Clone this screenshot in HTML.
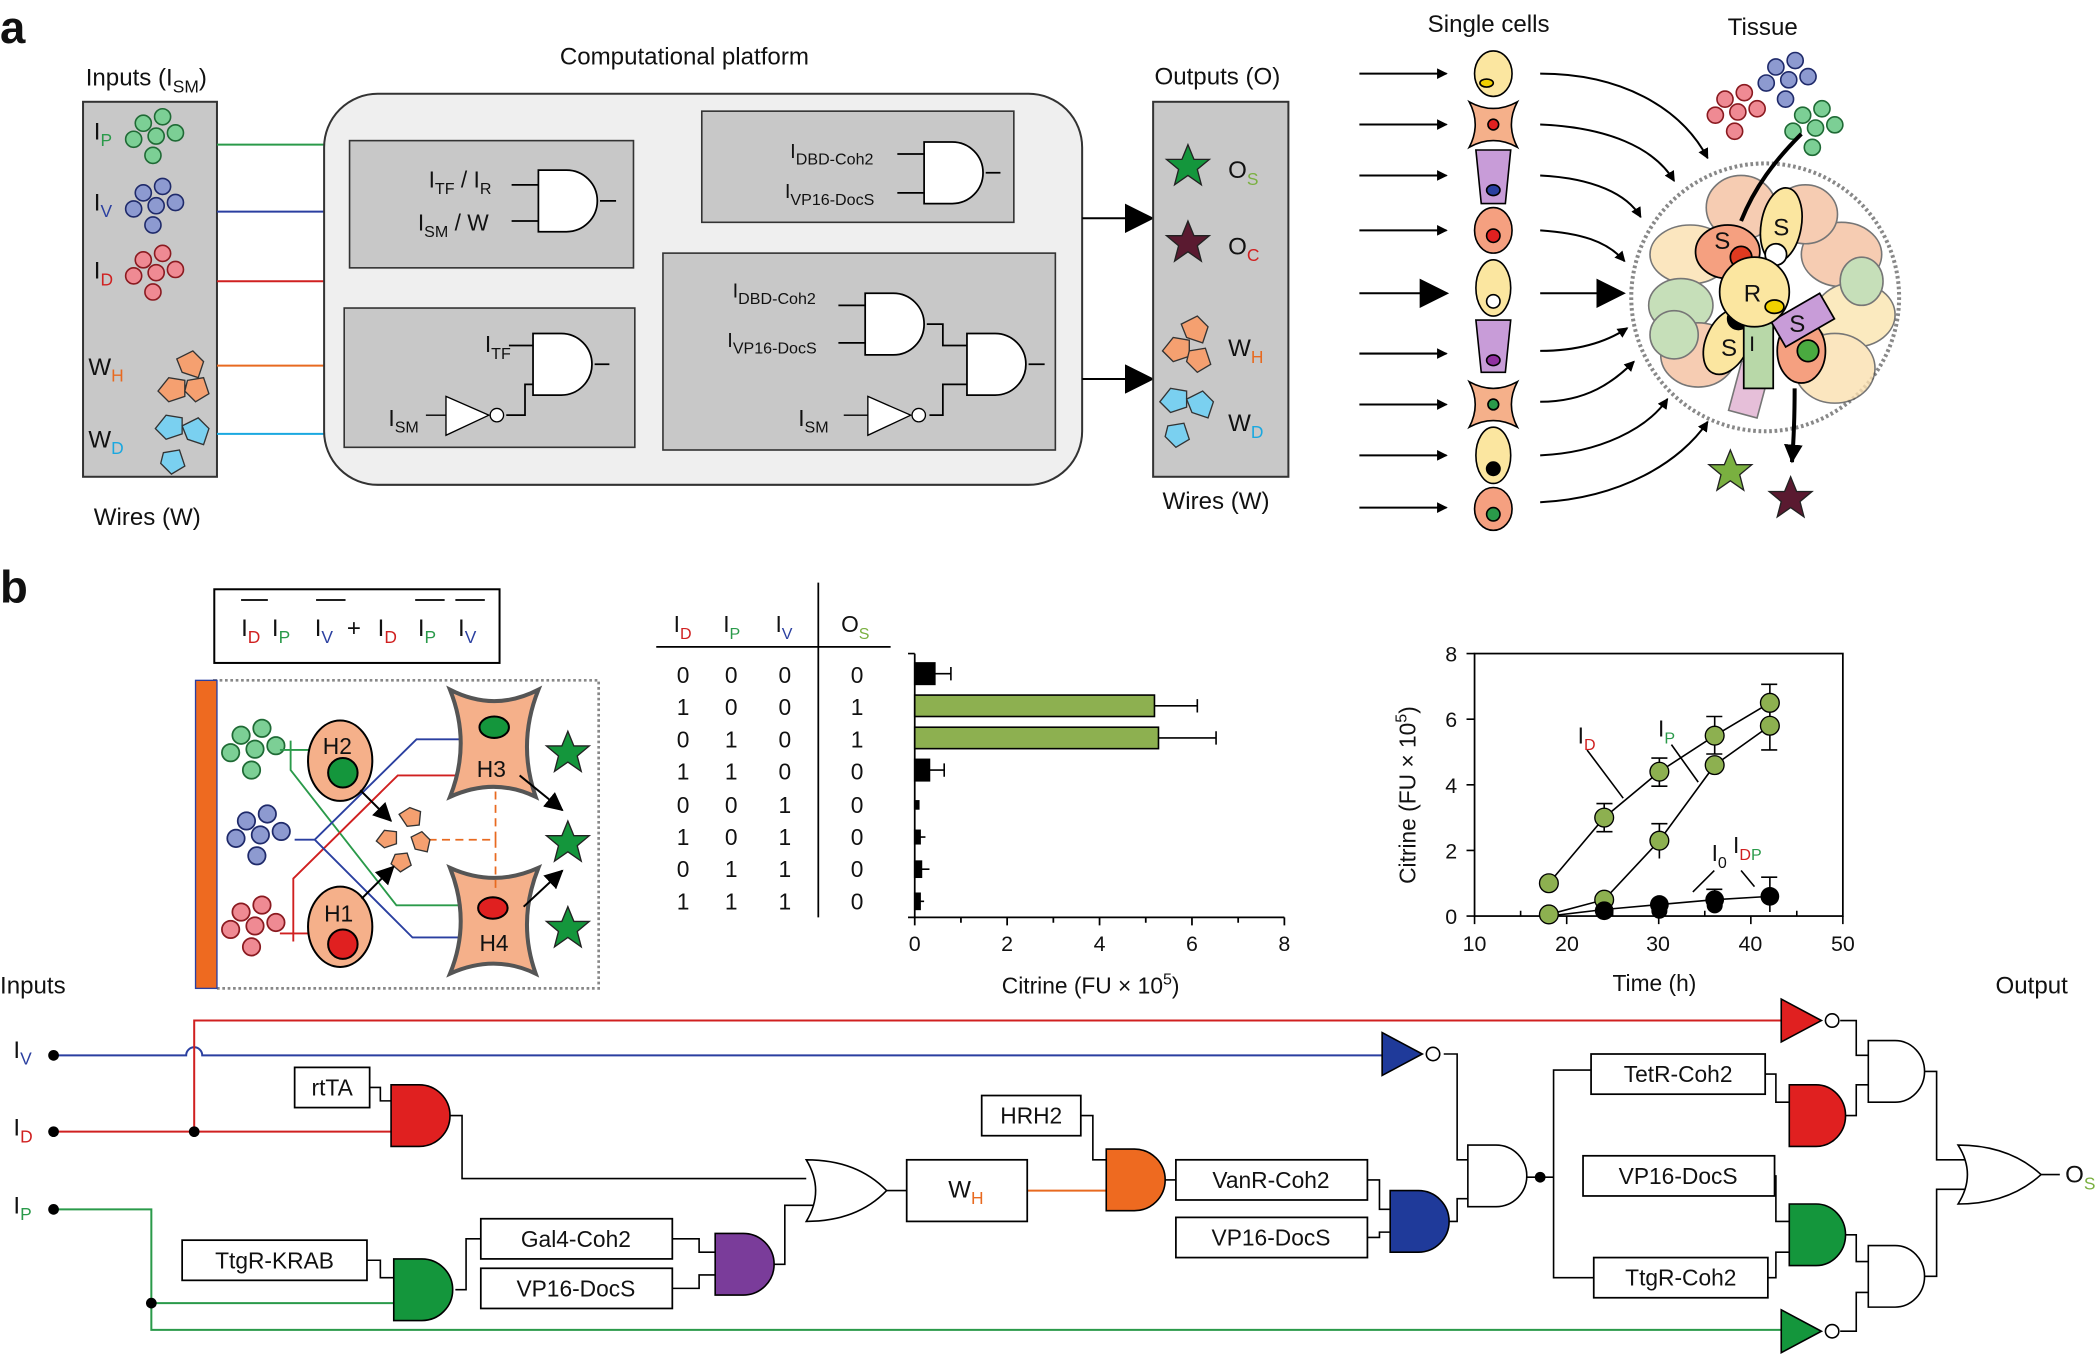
<!DOCTYPE html>
<html><head><meta charset="utf-8"><style>
html,body{margin:0;padding:0;background:#fff}
svg{display:block}
text{font-family:"Liberation Sans",Arial,sans-serif;fill:#111}
</style></head><body>
<svg width="2100" height="1354" viewBox="0 0 1568 1011" preserveAspectRatio="none" xmlns="http://www.w3.org/2000/svg">
<defs>
<marker id="ar" markerWidth="8" markerHeight="8" refX="7" refY="4" orient="auto" markerUnits="userSpaceOnUse"><path d="M0,0 L8,4 L0,8z" fill="#000"/></marker>
<marker id="arb" markerWidth="22" markerHeight="22" refX="20" refY="11" orient="auto" markerUnits="userSpaceOnUse"><path d="M0,0 L22,11 L0,22z" fill="#000"/></marker>
<marker id="arm" markerWidth="14" markerHeight="14" refX="13" refY="7" orient="auto" markerUnits="userSpaceOnUse"><path d="M0,0 L14,7 L0,14z" fill="#000"/></marker>
<g id="dg"><circle cx="0" cy="0" r="5"/><circle cx="12" cy="-4" r="5"/><circle cx="-6" cy="10" r="5"/><circle cx="8" cy="8" r="5"/><circle cx="20" cy="6" r="5"/><circle cx="6" cy="20" r="5"/></g>
<g id="gate" stroke="#000" stroke-width="1.3"><path d="M0,0 H21 A23,23 0 0 1 21,46 H0 Z"/></g>
<path id="star" d="M0,-16 L4.5,-5 L16,-5 L7,2.5 L10,14 L0,7 L-10,14 L-7,2.5 L-16,-5 L-4.5,-5Z"/>
</defs>

<!-- ===== Panel a ===== -->
<text x="0" y="32" font-size="34" font-weight="bold">a</text>
<text x="64" y="64" font-size="18">Inputs (I<tspan font-size="13" dy="5">SM</tspan><tspan dy="-5">)</tspan></text>
<rect x="62" y="76" width="100" height="280" fill="#c8c8c8" stroke="#333" stroke-width="1.5"/>
<text x="70" y="104" font-size="18">I<tspan font-size="13" dy="5" fill="#2a9a4a">P</tspan></text>
<text x="70" y="157" font-size="18">I<tspan font-size="13" dy="5" fill="#2a3fa0">V</tspan></text>
<text x="70" y="208" font-size="18">I<tspan font-size="13" dy="5" fill="#d02020">D</tspan></text>
<text x="66" y="280" font-size="18">W<tspan font-size="13" dy="5" fill="#e86a20">H</tspan></text>
<text x="66" y="334" font-size="18">W<tspan font-size="13" dy="5" fill="#1aa8e0">D</tspan></text>
<use href="#dg" transform="translate(107,92) scale(1.2)" fill="#7ccf95" stroke="#1f6a35"/>
<use href="#dg" transform="translate(107,144) scale(1.2)" fill="#8d9ad0" stroke="#1f2a6a"/>
<use href="#dg" transform="translate(107,194) scale(1.2)" fill="#ef8a93" stroke="#8a1a20"/>
<g fill="#f5a070" stroke="#333"><path d="M118,292 l8,-10 l12,2 l0,12 l-12,4z"/><path d="M132,268 l12,-6 l8,8 l-4,12 l-12,-4z"/><path d="M140,284 l12,-2 l4,12 l-10,6 l-8,-8z"/></g>
<g fill="#7ad0f0" stroke="#333"><path d="M116,320 l8,-10 l12,2 l0,12 l-12,4z"/><path d="M136,318 l12,-6 l8,8 l-4,12 l-12,-4z"/><path d="M122,338 l12,-2 l4,12 l-10,6 l-8,-8z"/></g>
<text x="70" y="392" font-size="18">Wires (W)</text>
<line x1="162" y1="108" x2="242" y2="108" stroke="#2a9a4a" stroke-width="1.5"/>
<line x1="162" y1="158" x2="242" y2="158" stroke="#2a3fa0" stroke-width="1.5"/>
<line x1="162" y1="210" x2="242" y2="210" stroke="#d02020" stroke-width="1.5"/>
<line x1="162" y1="273" x2="242" y2="273" stroke="#e86a20" stroke-width="1.5"/>
<line x1="162" y1="324" x2="242" y2="324" stroke="#1aa8e0" stroke-width="1.5"/>
<text x="418" y="48" font-size="18">Computational platform</text>
<rect x="242" y="70" width="566" height="292" rx="40" fill="#efefef" stroke="#333" stroke-width="1.5"/>
<g fill="#c8c8c8" stroke="#333" stroke-width="1.2">
<rect x="261" y="105" width="212" height="95"/><rect x="257" y="230" width="217" height="104"/>
<rect x="524" y="83" width="233" height="83"/><rect x="495" y="189" width="293" height="147"/></g>
<g fill="#fff"><use href="#gate" x="402" y="127"/></g>
<path d="M382,138H402M382,165H402M448,150H460" stroke="#000" stroke-width="1.3"/>
<text x="320" y="140" font-size="17">I<tspan font-size="12" dy="5">TF</tspan><tspan dy="-5"> / I</tspan><tspan font-size="12" dy="5">R</tspan></text>
<text x="312" y="172" font-size="17">I<tspan font-size="12" dy="5">SM</tspan><tspan dy="-5"> / W</tspan></text>
<use href="#gate" x="690" y="106" fill="#fff"/>
<path d="M670,115H690M670,144H690M736,129H747" stroke="#000" stroke-width="1.3"/>
<text x="590" y="118" font-size="15">I<tspan font-size="12" dy="5">DBD-Coh2</tspan></text>
<text x="586" y="148" font-size="15">I<tspan font-size="12" dy="5">VP16-DocS</tspan></text>
<use href="#gate" x="398" y="249" fill="#fff"/>
<path d="M380,258H398M444,272H455M398,287H392V310H378" stroke="#000" stroke-width="1.3" fill="none"/>
<path d="M333,296L365,310L333,325Z" fill="#fff" stroke="#000"/><circle cx="371" cy="310" r="5" fill="#fff" stroke="#000"/>
<line x1="318" y1="310" x2="333" y2="310" stroke="#000"/>
<text x="362" y="263" font-size="17">I<tspan font-size="12" dy="5">TF</tspan></text>
<text x="290" y="318" font-size="17">I<tspan font-size="12" dy="5">SM</tspan></text>
<use href="#gate" x="646" y="219" fill="#fff"/><use href="#gate" x="722" y="249" fill="#fff"/>
<path d="M626,228H646M626,256H646M692,242H704V258H722M768,272H780M722,287H704V310H694" stroke="#000" stroke-width="1.3" fill="none"/>
<path d="M648,296L680,310L648,325Z" fill="#fff" stroke="#000"/><circle cx="686" cy="310" r="5" fill="#fff" stroke="#000"/>
<line x1="630" y1="310" x2="648" y2="310" stroke="#000"/>
<text x="547" y="222" font-size="15">I<tspan font-size="12" dy="5">DBD-Coh2</tspan></text>
<text x="543" y="259" font-size="15">I<tspan font-size="12" dy="5">VP16-DocS</tspan></text>
<text x="596" y="318" font-size="17">I<tspan font-size="12" dy="5">SM</tspan></text>
<line x1="808" y1="163" x2="860" y2="163" stroke="#000" stroke-width="1.5" marker-end="url(#arb)"/>
<line x1="808" y1="283" x2="860" y2="283" stroke="#000" stroke-width="1.5" marker-end="url(#arb)"/>
<text x="862" y="63" font-size="18">Outputs (O)</text>
<rect x="861" y="76" width="101" height="280" fill="#c8c8c8" stroke="#333" stroke-width="1.5"/>
<use href="#star" x="887" y="124" fill="#14963c" stroke="#222"/>
<use href="#star" x="887" y="181" fill="#5a1a30" stroke="#222"/>
<text x="917" y="133" font-size="18">O<tspan font-size="13" dy="5" fill="#7ab040">S</tspan></text>
<text x="917" y="190" font-size="18">O<tspan font-size="13" dy="5" fill="#d02020">C</tspan></text>
<text x="917" y="266" font-size="18">W<tspan font-size="13" dy="5" fill="#e86a20">H</tspan></text>
<text x="917" y="322" font-size="18">W<tspan font-size="13" dy="5" fill="#1aa8e0">D</tspan></text>
<g fill="#f5a070" stroke="#333"><path d="M868,262 l8,-10 l12,2 l0,12 l-12,4z"/><path d="M882,242 l12,-6 l8,8 l-4,12 l-12,-4z"/><path d="M888,262 l12,-2 l4,12 l-10,6 l-8,-8z"/></g>
<g fill="#7ad0f0" stroke="#333"><path d="M866,300 l8,-10 l12,2 l0,12 l-12,4z"/><path d="M886,298 l12,-6 l8,8 l-4,12 l-12,-4z"/><path d="M872,318 l12,-2 l4,12 l-10,6 l-8,-8z"/></g>
<text x="868" y="380" font-size="18">Wires (W)</text>
<text x="1066" y="24" font-size="18">Single cells</text>
<text x="1290" y="26" font-size="18">Tissue</text>
<g stroke="#000" stroke-width="1.5" fill="none">
<line x1="1015" y1="55" x2="1080" y2="55" marker-end="url(#ar)"/>
<line x1="1015" y1="93" x2="1080" y2="93" marker-end="url(#ar)"/>
<line x1="1015" y1="131" x2="1080" y2="131" marker-end="url(#ar)"/>
<line x1="1015" y1="172" x2="1080" y2="172" marker-end="url(#ar)"/>
<line x1="1015" y1="219" x2="1080" y2="219" marker-end="url(#arb)"/>
<line x1="1015" y1="264" x2="1080" y2="264" marker-end="url(#ar)"/>
<line x1="1015" y1="302" x2="1080" y2="302" marker-end="url(#ar)"/>
<line x1="1015" y1="340" x2="1080" y2="340" marker-end="url(#ar)"/>
<line x1="1015" y1="379" x2="1080" y2="379" marker-end="url(#ar)"/>
<line x1="1150" y1="219" x2="1212" y2="219" marker-end="url(#arb)"/>
<path d="M1150,55 C1210,55 1255,80 1275,118" marker-end="url(#ar)"/>
<path d="M1150,93 C1200,95 1235,110 1250,135" marker-end="url(#ar)"/>
<path d="M1150,131 C1190,133 1215,145 1225,162" marker-end="url(#ar)"/>
<path d="M1150,172 C1180,174 1200,180 1213,195" marker-end="url(#ar)"/>
<path d="M1150,262 C1180,262 1200,255 1215,245" marker-end="url(#ar)"/>
<path d="M1150,300 C1185,300 1205,285 1220,270" marker-end="url(#ar)"/>
<path d="M1150,340 C1195,338 1230,320 1245,298" marker-end="url(#ar)"/>
<path d="M1150,375 C1210,372 1255,345 1275,315" marker-end="url(#ar)"/>
</g>
<g stroke="#000" stroke-width="1.2">
<ellipse cx="1115" cy="55" rx="14" ry="17" fill="#fbe6a0"/><ellipse cx="1110" cy="62" rx="5" ry="3" fill="#f0d000"/>
<path d="M1097,76 Q1115,86 1133,76 Q1124,93 1133,110 Q1115,100 1097,110 Q1106,93 1097,76Z" fill="#f5b08a"/><circle cx="1115" cy="93" r="4" fill="#e02020"/>
<path d="M1102,112 H1128 L1124,152 H1106Z" fill="#c89cd8"/><ellipse cx="1115" cy="142" rx="5" ry="4" fill="#2a3fa0"/>
<ellipse cx="1115" cy="172" rx="14" ry="17" fill="#f5a080"/><circle cx="1115" cy="176" r="5" fill="#e02020"/>
<ellipse cx="1115" cy="215" rx="13" ry="21" fill="#fbe6a0"/><circle cx="1115" cy="225" r="5" fill="#fff"/>
<path d="M1102,239 H1128 L1124,278 H1106Z" fill="#c89cd8"/><ellipse cx="1115" cy="269" rx="5" ry="4" fill="#9030a0"/>
<path d="M1097,285 Q1115,295 1133,285 Q1124,302 1133,319 Q1115,309 1097,319 Q1106,302 1097,285Z" fill="#f5b08a"/><circle cx="1115" cy="302" r="4" fill="#2a9a4a"/>
<ellipse cx="1115" cy="340" rx="13" ry="21" fill="#fbe6a0"/><circle cx="1115" cy="350" r="5" fill="#000"/>
<ellipse cx="1115" cy="380" rx="14" ry="16" fill="#f5a080"/><circle cx="1115" cy="384" r="5" fill="#2a9a4a"/>
</g>
<circle cx="1318" cy="222" r="100" fill="none" stroke="#888" stroke-width="3" stroke-dasharray="2,2"/>
<use href="#dg" transform="translate(1288,74) scale(1.2)" fill="#ef8a93" stroke="#8a1a20"/>
<use href="#dg" transform="translate(1326,50) scale(1.2)" fill="#8d9ad0" stroke="#1f2a6a"/>
<use href="#dg" transform="translate(1346,86) scale(1.2)" fill="#7ccf95" stroke="#1f6a35"/>
<g stroke="#555" stroke-width="1.2" opacity="0.8">
<ellipse cx="1262" cy="190" rx="30" ry="22" fill="#fbe0b0"/><ellipse cx="1375" cy="190" rx="30" ry="24" fill="#f5c0a0"/>
<ellipse cx="1255" cy="228" rx="24" ry="20" fill="#b8d8a8"/><ellipse cx="1385" cy="235" rx="30" ry="24" fill="#fbe6b0"/>
<ellipse cx="1268" cy="265" rx="28" ry="24" fill="#f5c0a0"/><ellipse cx="1370" cy="275" rx="30" ry="26" fill="#fbe0b0"/>
<ellipse cx="1300" cy="155" rx="26" ry="24" fill="#f5c0a0"/><ellipse cx="1348" cy="160" rx="24" ry="22" fill="#f5c0a0"/>
<ellipse cx="1250" cy="250" rx="18" ry="18" fill="#b8d8a8"/><ellipse cx="1390" cy="210" rx="16" ry="18" fill="#b8d8a8"/>
<rect x="1296" y="272" width="22" height="38" fill="#e0b0d0" transform="rotate(15 1307 288)"/>
</g>
<g stroke="#000" stroke-width="1.3">
<ellipse cx="1290" cy="188" rx="24" ry="20" fill="#f5a080"/><circle cx="1300" cy="192" r="8" fill="#e03a20"/>
<ellipse cx="1330" cy="168" rx="15" ry="28" fill="#fbe6a0" transform="rotate(10 1330 168)"/><circle cx="1326" cy="190" r="8" fill="#fff"/>
<ellipse cx="1290" cy="255" rx="16" ry="26" fill="#fbe6a0" transform="rotate(25 1290 255)"/><circle cx="1298" cy="238" r="8" fill="#000"/>
<rect x="1302" y="240" width="22" height="50" fill="#b8d8a8"/>
<ellipse cx="1345" cy="262" rx="18" ry="24" fill="#f5a080"/><circle cx="1350" cy="262" r="8" fill="#4aaa40"/>
<rect x="1335" y="218" width="22" height="42" fill="#c89cd8" transform="rotate(60 1346 239)"/>
<circle cx="1310" cy="218" r="26" fill="#fbe6a0"/><ellipse cx="1325" cy="229" rx="7" ry="5" fill="#f0d000"/>
</g>
<text x="1302" y="225" font-size="18">R</text><text x="1324" y="176" font-size="18">S</text><text x="1280" y="186" font-size="18">S</text>
<text x="1285" y="266" font-size="18">S</text><text x="1336" y="248" font-size="18">S</text><text x="1306" y="262" font-size="16">I</text>
<path d="M1345,100 C1325,120 1310,140 1300,165" stroke="#000" stroke-width="3" fill="none"/>
<path d="M1340,290 Q1340,320 1338,345" stroke="#000" stroke-width="3" fill="none" marker-end="url(#arm)"/>
<use href="#star" x="1292" y="352" fill="#7ab040" stroke="#222"/>
<use href="#star" x="1337" y="372" fill="#5a1a30" stroke="#222"/>

<!-- ===== Panel b ===== -->
<text x="0" y="450" font-size="34" font-weight="bold">b</text>
<rect x="160" y="440" width="213" height="55" fill="#fff" stroke="#000" stroke-width="1.5"/>
<g stroke="#000" stroke-width="1.3"><line x1="180" y1="448" x2="200" y2="448"/><line x1="236" y1="448" x2="258" y2="448"/><line x1="310" y1="448" x2="332" y2="448"/><line x1="340" y1="448" x2="362" y2="448"/></g>
<g font-size="18">
<text x="180" y="475">I<tspan font-size="13" dy="5" fill="#d02020">D</tspan></text>
<text x="203" y="475">I<tspan font-size="13" dy="5" fill="#2a9a4a">P</tspan></text>
<text x="235" y="475">I<tspan font-size="13" dy="5" fill="#2a3fa0">V</tspan></text>
<text x="259" y="475">+</text>
<text x="282" y="475">I<tspan font-size="13" dy="5" fill="#d02020">D</tspan></text>
<text x="312" y="475">I<tspan font-size="13" dy="5" fill="#2a9a4a">P</tspan></text>
<text x="342" y="475">I<tspan font-size="13" dy="5" fill="#2a3fa0">V</tspan></text>
</g>
<rect x="160" y="508" width="287" height="230" fill="none" stroke="#888" stroke-width="2" stroke-dasharray="2,2"/>
<rect x="146" y="508" width="16" height="230" fill="#ee6a20" stroke="#2a3fa0"/>
<use href="#dg" transform="translate(180,549) scale(1.3)" fill="#7ccf95" stroke="#1f6a35"/>
<use href="#dg" transform="translate(184,613) scale(1.3)" fill="#8d9ad0" stroke="#1f2a6a"/>
<use href="#dg" transform="translate(180,681) scale(1.3)" fill="#ef8a93" stroke="#8a1a20"/>
<g fill="none" stroke-width="1.4">
<path d="M209,560 H234 M217,553 V575 L296,676 H346" stroke="#2a9a4a"/>
<path d="M209,697 H234 M219,703 V656 L297,579 H346" stroke="#d02020"/>
<path d="M220,627 H235 L311,552 H346 M235,627 L308,700 H346" stroke="#2a3fa0"/>
</g>
<g stroke="#000" stroke-width="1.5">
<ellipse cx="254" cy="568" rx="24" ry="30" fill="#f5b08a"/><circle cx="256" cy="577" r="11" fill="#14963c"/>
<ellipse cx="254" cy="692" rx="24" ry="30" fill="#f5b08a"/><circle cx="256" cy="705" r="11" fill="#e02020"/>
</g>
<text x="241" y="563" font-size="17">H2</text><text x="242" y="688" font-size="17">H1</text>
<g stroke="#555" stroke-width="3" fill="#f5b08a">
<path d="M336,515 Q369,532 402,515 Q386,555 400,595 Q369,580 336,595 Q352,555 336,515Z"/>
<path d="M336,648 Q369,663 402,648 Q386,688 400,727 Q369,712 336,727 Q352,688 336,648Z"/>
</g>
<ellipse cx="369" cy="543" rx="11" ry="8" fill="#14963c" stroke="#000" stroke-width="1.5"/>
<ellipse cx="368" cy="678" rx="11" ry="8" fill="#e02020" stroke="#000" stroke-width="1.5"/>
<text x="356" y="580" font-size="17">H3</text><text x="358" y="710" font-size="17">H4</text>
<path d="M320,627 H370 V588 M370,627 V664" stroke="#e86a20" stroke-dasharray="6,4" stroke-width="1.3" fill="none"/>
<g fill="#f5a070" stroke="#333"><path d="M298,608 l8,-5 l8,3 l-1,10 l-9,1z"/><path d="M281,628 l6,-8 l9,1 l0,9 l-9,3z"/><path d="M307,625 l8,-4 l6,6 l-2,9 l-9,-2z"/><path d="M295,638 l9,-1 l3,9 l-8,5 l-7,-6z"/></g>
<g stroke="#000" stroke-width="1.5">
<line x1="269" y1="590" x2="292" y2="613" marker-end="url(#arm)"/>
<line x1="270" y1="671" x2="294" y2="647" marker-end="url(#arm)"/>
<line x1="388" y1="579" x2="420" y2="605" marker-end="url(#arm)"/>
<line x1="391" y1="677" x2="420" y2="650" marker-end="url(#arm)"/>
</g>
<use href="#star" x="424" y="562" fill="#14963c" stroke="#222"/>
<use href="#star" x="424" y="629" fill="#14963c" stroke="#222"/>
<use href="#star" x="424" y="693" fill="#14963c" stroke="#222"/>
<line x1="611" y1="435" x2="611" y2="685" stroke="#000" stroke-width="1.3"/>
<line x1="490" y1="483" x2="665" y2="483" stroke="#000" stroke-width="1.3"/>
<g font-size="17">
<text x="503" y="472">I<tspan font-size="12" dy="5" fill="#d02020">D</tspan></text>
<text x="540" y="472">I<tspan font-size="12" dy="5" fill="#2a9a4a">P</tspan></text>
<text x="579" y="472">I<tspan font-size="12" dy="5" fill="#2a3fa0">V</tspan></text>
<text x="628" y="472">O<tspan font-size="12" dy="5" fill="#7ab040">S</tspan></text>
</g>
<g font-size="17" text-anchor="middle">
<text x="510" y="510">0</text><text x="546" y="510">0</text><text x="586" y="510">0</text><text x="640" y="510">0</text>
<text x="510" y="534">1</text><text x="546" y="534">0</text><text x="586" y="534">0</text><text x="640" y="534">1</text>
<text x="510" y="558">0</text><text x="546" y="558">1</text><text x="586" y="558">0</text><text x="640" y="558">1</text>
<text x="510" y="582">1</text><text x="546" y="582">1</text><text x="586" y="582">0</text><text x="640" y="582">0</text>
<text x="510" y="607">0</text><text x="546" y="607">0</text><text x="586" y="607">1</text><text x="640" y="607">0</text>
<text x="510" y="631">1</text><text x="546" y="631">0</text><text x="586" y="631">1</text><text x="640" y="631">0</text>
<text x="510" y="655">0</text><text x="546" y="655">1</text><text x="586" y="655">1</text><text x="640" y="655">0</text>
<text x="510" y="679">1</text><text x="546" y="679">1</text><text x="586" y="679">1</text><text x="640" y="679">0</text>
</g>
<g stroke="#000" stroke-width="1.3" fill="none">
<path d="M683,488 V685 H959"/>
<path d="M683,685v6M717.5,685v4M752,685v6M786.5,685v4M821,685v6M855.5,685v4M890,685v6M924.5,685v4M959,685v6"/>
<path d="M683,488h-5M683,685h-5"/>
</g>
<g font-size="16" text-anchor="middle"><text x="683" y="710">0</text><text x="752" y="710">2</text><text x="821" y="710">4</text><text x="890" y="710">6</text><text x="959" y="710">8</text></g>
<text x="748" y="742" font-size="17">Citrine (FU × 10<tspan font-size="12" dy="-7">5</tspan><tspan dy="7">)</tspan></text>
<g stroke="#000" stroke-width="1.2">
<rect x="683" y="495" width="15" height="16" fill="#000"/><path d="M698,503H710M710,498v10"/>
<rect x="683" y="519" width="179" height="16" fill="#8db050"/><path d="M862,527H894M894,522v10"/>
<rect x="683" y="543" width="182" height="16" fill="#8db050"/><path d="M865,551H908M908,546v10"/>
<rect x="683" y="567" width="11" height="16" fill="#000"/><path d="M694,575H705M705,570v10"/>
<rect x="683" y="598" width="3" height="6" fill="#000"/>
<rect x="683" y="620" width="4" height="10" fill="#000"/><path d="M687,625H691"/>
<rect x="683" y="643" width="5" height="12" fill="#000"/><path d="M688,649H694"/>
<rect x="683" y="667" width="4" height="12" fill="#000"/><path d="M687,673H690"/>
</g>
<rect x="1101" y="488" width="275" height="196" fill="none" stroke="#000" stroke-width="1.3"/>
<g stroke="#000" stroke-width="1.2"><path d="M1101,684v6M1135.4,684v-4M1169.8,684v6M1204.1,684v-4M1238.5,684v6M1272.9,684v-4M1307.3,684v6M1341.6,684v-4M1376,684v6"/>
<path d="M1101,684h-6M1101,635h-6M1101,586h-6M1101,537h-6M1101,488h-6"/></g>
<g font-size="16" text-anchor="middle"><text x="1101" y="710">10</text><text x="1170" y="710">20</text><text x="1238" y="710">30</text><text x="1307" y="710">40</text><text x="1376" y="710">50</text></g>
<g font-size="16" text-anchor="end"><text x="1088" y="690">0</text><text x="1088" y="641">2</text><text x="1088" y="592">4</text><text x="1088" y="543">6</text><text x="1088" y="494">8</text></g>
<text x="1204" y="740" font-size="17">Time (h)</text>
<text transform="translate(1057,660) rotate(-90)" font-size="17">Citrine (FU × 10<tspan font-size="12" dy="-7">5</tspan><tspan dy="7">)</tspan></text>
<g stroke="#000" stroke-width="1.2" fill="none">
<polyline points="1156.5,659.5 1197.8,610.5 1239,576.2 1280.3,549.3 1321.5,524.8"/>
<polyline points="1156.5,682.8 1197.8,671.8 1239,627.7 1280.3,571.3 1321.5,541.9"/>
<polyline points="1156.5,684 1197.8,679.1 1239,675.4 1280.3,671.8 1321.5,669.3"/>
<path d="M1197.8,600v21M1239,566v21M1280.3,535v28M1321.5,511v28M1321.5,524v36M1239,615v26M1321.5,655v26M1280.3,664v14"/>
<path d="M1192,600h12M1192,621h12M1233,566h12M1233,587h12M1274,535h12M1274,563h12M1315,511h12M1315,560h12M1233,615h12M1315,655h12M1274,664h12"/>
<path d="M1185,560 L1212,596 M1248,556 L1268,584 M1280,650 L1264,666 M1300,650 L1310,662"/>
</g>
<g stroke="#000" fill="#8db050">
<circle cx="1156.5" cy="659.5" r="7"/><circle cx="1197.8" cy="610.5" r="7"/><circle cx="1239" cy="576.2" r="7"/><circle cx="1280.3" cy="549.3" r="7"/><circle cx="1321.5" cy="524.8" r="7"/>
<circle cx="1156.5" cy="682.8" r="7"/><circle cx="1197.8" cy="671.8" r="7"/><circle cx="1239" cy="627.7" r="7"/><circle cx="1280.3" cy="571.3" r="7"/><circle cx="1321.5" cy="541.9" r="7"/>
</g>
<g fill="#000"><circle cx="1197.8" cy="680" r="7"/><circle cx="1239" cy="675.4" r="7"/><circle cx="1280.3" cy="671.8" r="7"/><circle cx="1321.5" cy="669.3" r="7"/><circle cx="1239" cy="680" r="6"/><circle cx="1280.3" cy="676" r="6"/></g>
<text x="1178" y="555" font-size="17">I<tspan font-size="12" dy="5" fill="#d02020">D</tspan></text>
<text x="1238" y="550" font-size="17">I<tspan font-size="12" dy="5" fill="#2a9a4a">P</tspan></text>
<text x="1278" y="643" font-size="17">I<tspan font-size="12" dy="5">0</tspan></text>
<text x="1294" y="637" font-size="17">I<tspan font-size="12" dy="5" fill="#d02020">D</tspan><tspan font-size="12" fill="#2a9a4a">P</tspan></text>

<!-- ===== Circuit ===== -->
<text x="0" y="742" font-size="18">Inputs</text>
<text x="1490" y="742" font-size="18">Output</text>
<text x="10" y="790" font-size="18">I<tspan font-size="13" dy="5" fill="#2a3fa0">V</tspan></text>
<text x="10" y="848" font-size="18">I<tspan font-size="13" dy="5" fill="#d02020">D</tspan></text>
<text x="10" y="906" font-size="18">I<tspan font-size="13" dy="5" fill="#2a9a4a">P</tspan></text>
<g fill="none" stroke-width="1.5">
<path d="M40,788 H139 A6,6 0 0 1 151,788 H1032" stroke="#2a3fa0"/>
<path d="M40,845 H292 M145,845 V762 H1330" stroke="#d02020"/>
<path d="M40,903 H113 V993 H1330 M113,973 H294" stroke="#2a9a4a"/>
<path d="M767,889 H826" stroke="#e86a20"/>
</g>
<g fill="#000"><circle cx="40" cy="788" r="4"/><circle cx="40" cy="845" r="4"/><circle cx="40" cy="903" r="4"/><circle cx="145" cy="845" r="4"/><circle cx="113" cy="973" r="4"/><circle cx="1150" cy="879" r="4"/></g>
<g stroke="#000" stroke-width="1.2" fill="none">
<path d="M276,812 H284 V822 H292"/>
<path d="M336,833 H345 V880 H602"/>
<path d="M274,941 H284 V954 H294"/>
<path d="M340,963 H348 V925 H359"/>
<path d="M502,925 H522 V935 H534 M502,962 H522 V952 H534"/>
<path d="M578,944 H586 V900 H610"/>
<path d="M660,889 H677"/>
<path d="M807,833 H816 V866 H826"/>
<path d="M870,881 H878"/>
<path d="M1021,881 H1030 V903 H1038 M1021,924 H1030 V920 H1038"/>
<path d="M1080,912 H1088 V895 H1096"/>
<path d="M1078,787 H1088 V866 H1096"/>
<path d="M1140,879 H1160 V799 H1188 M1160,879 V954 H1190"/>
<path d="M1318,802 H1326 V823 H1336"/>
<path d="M1325,878 H1326 V912 H1336"/>
<path d="M1320,954 H1326 V935 H1336"/>
<path d="M1378,833 H1386 V810 H1395"/>
<path d="M1374,762 H1386 V788 H1395"/>
<path d="M1378,922 H1386 V942 H1395"/>
<path d="M1374,994 H1386 V965 H1395"/>
<path d="M1437,800 H1446 V866 H1468 M1437,953 H1446 V888 H1468"/>
<path d="M1524,877 H1538"/>
</g>
<g stroke="#000" stroke-width="1.2">
<path d="M292,810 H313 A23,23 0 0 1 313,856 H292Z" fill="#e02020"/>
<path d="M294,940 H315 A23,23 0 0 1 315,986 H294Z" fill="#14963c"/>
<path d="M534,921 H555 A23,23 0 0 1 555,967 H534Z" fill="#7a3c9a"/>
<path d="M826,858 H847 A23,23 0 0 1 847,904 H826Z" fill="#ee6a20"/>
<path d="M1038,889 H1059 A23,23 0 0 1 1059,935 H1038Z" fill="#1f3a9a"/>
<path d="M1096,855 H1117 A23,23 0 0 1 1117,901 H1096Z" fill="#fff"/>
<path d="M1336,810 H1356 A22,23 0 0 1 1356,856 H1336Z" fill="#e02020"/>
<path d="M1336,899 H1356 A22,23 0 0 1 1356,945 H1336Z" fill="#14963c"/>
<path d="M1395,777 H1415 A22,23 0 0 1 1415,823 H1395Z" fill="#fff"/>
<path d="M1395,930 H1415 A22,23 0 0 1 1415,976 H1395Z" fill="#fff"/>
<path d="M602,866 Q640,866 662,889 Q640,912 602,912 Q616,889 602,866Z" fill="#fff"/>
<path d="M1462,855 Q1500,855 1524,877 Q1500,899 1462,899 Q1476,877 1462,855Z" fill="#fff"/>
<path d="M1330,746 L1360,762 L1330,778Z" fill="#e02020"/><circle cx="1368" cy="762" r="5" fill="#fff"/>
<path d="M1032,771 L1062,787 L1032,803Z" fill="#1f3a9a"/><circle cx="1070" cy="787" r="5" fill="#fff"/>
<path d="M1330,978 L1360,994 L1330,1010Z" fill="#14963c"/><circle cx="1368" cy="994" r="5" fill="#fff"/>
</g>
<g fill="#fff" stroke="#000" stroke-width="1.3">
<rect x="220" y="797" width="56" height="30"/><rect x="136" y="926" width="138" height="30"/>
<rect x="359" y="910" width="143" height="30"/><rect x="359" y="947" width="143" height="30"/>
<rect x="677" y="866" width="90" height="46"/><rect x="733" y="818" width="74" height="30"/>
<rect x="878" y="866" width="143" height="30"/><rect x="878" y="909" width="143" height="30"/>
<rect x="1188" y="787" width="130" height="30"/><rect x="1182" y="863" width="143" height="30"/><rect x="1190" y="939" width="130" height="30"/>
</g>
<g font-size="17" text-anchor="middle">
<text x="248" y="818">rtTA</text><text x="205" y="947">TtgR-KRAB</text>
<text x="430" y="931">Gal4-Coh2</text><text x="430" y="968">VP16-DocS</text>
<text x="770" y="839">HRH2</text>
<text x="949" y="887">VanR-Coh2</text><text x="949" y="930">VP16-DocS</text>
<text x="1253" y="808">TetR-Coh2</text><text x="1253" y="884">VP16-DocS</text><text x="1255" y="960">TtgR-Coh2</text>
</g>
<text x="708" y="894" font-size="18">W<tspan font-size="13" dy="5" fill="#e86a20">H</tspan></text>
<text x="1542" y="883" font-size="18">O<tspan font-size="13" dy="5" fill="#7ab040">S</tspan></text>
</svg>
</body></html>
